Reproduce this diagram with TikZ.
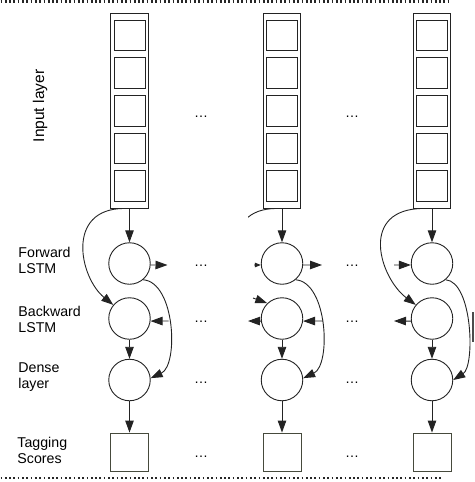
\documentclass[tikz,border=0pt]{standalone}
\usepackage{fontspec}
\setmainfont{Liberation Sans}
\usetikzlibrary{arrows.meta}
\definecolor{tagc}{RGB}{70,74,60}
\definecolor{ln}{RGB}{35,35,35}
\begin{document}
\begin{tikzpicture}[x=1pt,y=-1pt,
  line width=0.9pt, draw=ln,
  inbox/.style={draw=ln, minimum width=37.6pt, minimum height=195pt, inner sep=0},
  cell/.style={draw=ln, minimum width=31pt, minimum height=30.5pt, inner sep=0},
  unit/.style={circle, draw=ln, minimum size=41.5pt, inner sep=0},
  tagbox/.style={draw=tagc, minimum size=38pt, inner sep=0},
  arr/.style={-{Triangle[length=12pt,width=8.5pt]}},
  tinyarr/.style={-{Triangle[length=6pt,width=4.5pt]}},
  lab/.style={anchor=north west, inner sep=0, align=left, font=\fontsize{14.2}{16}\selectfont},
  dots/.style={anchor=base, inner sep=0, font=\fontsize{14}{16}\selectfont},
  dotline/.style={line width=2.6pt, dash pattern=on 1.7pt off 2.6pt, black!85},
]
\useasboundingbox (0,0) rectangle (474,482);

% dotted frame lines
\draw[dotline] (0.5,1.7) -- (448,1.7);
\draw[dotline] (0.5,478) -- (442,478);

% columns
\foreach \i/\x in {1/129.5,2/282,3/432}{
  \node[inbox] (in\i) at (\x,110.5) {};
  \foreach \k/\y in {1/35.5,2/73,3/111,4/148.5,5/186}{
    \node[cell] (c\i\k) at (\x,\y) {};
  }
  \node[unit] (fw\i) at (\x,263.5) {};
  \node[unit] (bw\i) at (\x,318.5) {};
  \node[unit] (de\i) at (\x,380) {};
  \node[tagbox] (tg\i) at (\x,452) {};
  \draw[arr] (in\i.south) -- (fw\i.north);
  \draw[arr] (bw\i.south) -- (de\i.north);
  \draw[arr] (de\i.south) -- (tg\i.north);
}

% labels
\node[lab] (lf) at (18,246.5) {Forward\\LSTM};
\node[lab] (lb) at (18,305.5) {Backward\\LSTM};
\node[lab] (ld) at (18,362.5) {Dense\\layer};
\node[lab] (lt) at (17,437) {Tagging\\Scores};
\node[inner sep=0, rotate=90, font=\fontsize{15.5}{18}\selectfont] (li) at (40,106) {Input layer};

% dots
\foreach \n/\x in {a/201,b/352}{
  \node[dots] (d0\n) at (\x,117.5) {\ldots};
  \node[dots] (d1\n) at (\x,266.5) {\ldots};
  \node[dots] (d2\n) at (\x,322.5) {\ldots};
  \node[dots] (d3\n) at (\x,383.5) {\ldots};
  \node[dots] (d4\n) at (\x,457.5) {\ldots};
}

% column 1 connections
\draw[arr] ([xshift=-5pt]in1.south) .. controls +(-59.5,0) and +(-33.6,-27.2) .. (bw1.140);
\draw[arr] (fw1.-50) .. controls +(32.2,2.6) and +(28.1,-13) .. (de1.5);
\coordinate (fo1) at (167.5,265);
\draw[arr] (fw1.-4) -- (fo1);
\coordinate (bi1) at (168.5,321);
\draw[arr] (bi1) -- (bw1.-7);

% column 2 connections
\begin{scope}
  \clip (248,205) rectangle (285,218);
  \draw ([xshift=-5pt]in2.south) .. controls +(-59.5,0) and +(-33.6,-27.2) .. (bw2.140);
\end{scope}
\coordinate (bt2) at (253,298);
\draw[arr] (bt2) -- (bw2.134);
\draw[arr] (fw2.-50) .. controls +(32.2,2.6) and +(28.1,-13) .. (de2.5);
\coordinate (fo2) at (322,265);
\draw[arr] (fw2.-4) -- (fo2);
\coordinate (fi2) at (254,265);
\draw[tinyarr] (fi2) -- (fw2.184);
\coordinate (bo2) at (248,321);
\draw[arr] (bw2.187) -- (bo2);
\coordinate (bi2) at (323,321);
\draw[arr] (bi2) -- (bw2.-7);

% column 3 connections
\draw[arr] ([xshift=-8pt]in3.south) .. controls +(-66,0) and +(-36,-27) .. (bw3.140);
\draw[arr] (fw3.-50) .. controls +(27,2) and +(22,-14) .. (de3.0);
\coordinate (fi3) at (394,265);
\draw[arr] (fi3) -- (fw3.184);
\coordinate (bo3) at (394,321);
\draw[arr] (bw3.187) -- (bo3);

% clipped element at right edge
\fill[gray!60!black] (471.5,312) rectangle (474,342);
\end{tikzpicture}
\end{document}
